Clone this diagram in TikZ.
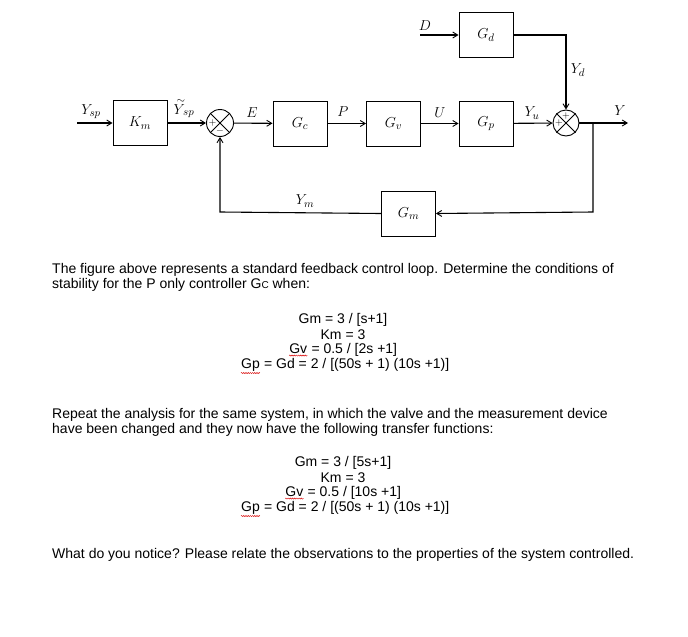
\documentclass[tikz,border=0pt]{standalone}
\usepackage{fontspec}
\setmainfont{Liberation Sans}
\usetikzlibrary{arrows.meta,decorations.pathmorphing}
\newcommand\wavy[1]{\tikz[baseline=(wv.base)]{\node[inner sep=0pt](wv){#1};\draw[red!85!black,line width=0.45pt,decorate,decoration={snake,amplitude=0.55pt,segment length=2.2pt}] ([yshift=-1.6pt]wv.south west) -- ([yshift=-1.6pt]wv.south east);}}
\newcommand\smc{{\fontsize{10}{10}\selectfont C}}
\begin{document}
\begin{tikzpicture}[x=1pt,y=-1pt,
  blk/.style={draw,line width=0.9pt,minimum width=54pt,minimum height=45pt,inner sep=0pt,font=\fontsize{15}{18}\selectfont},
  sumj/.style={draw,circle,line width=0.9pt,minimum size=27pt,inner sep=0pt},
  sig/.style={line width=1.1pt},
  arr/.style={sig,-{Straight Barb[length=5pt,width=6pt,line width=0.9pt]}},
  lab/.style={inner sep=0pt,font=\fontsize{15}{18}\selectfont},
  pm/.style={inner sep=0pt,font=\fontsize{10}{10}\selectfont},
  txt/.style={inner sep=0pt,anchor=west,font=\fontsize{14}{15}\selectfont},
  eq/.style={inner sep=0pt,anchor=center,font=\fontsize{14}{15}\selectfont}]
\useasboundingbox (0,0) rectangle (688,637);
% blocks
\coordinate (ysp) at (77,123);
\node[blk] (km) at (140,123) {$K_m$};
\node[sumj] (s1) at (220,123) {};
\node[blk] (gc) at (300,123.5) {$G_c$};
\node[blk] (gv) at (393.5,123.5) {$G_v$};
\node[blk] (gp) at (486,123.5) {$G_p$};
\node[blk] (gd) at (486,35) {$G_d$};
\coordinate (d) at (420,35);
\node[sumj,minimum size=26pt] (s2) at (566,123) {};
\coordinate (br) at (593,123);
\coordinate (yout) at (628,123);
\node[blk] (gm) at (408.5,213.5) {$G_m$};
\coordinate (c1) at (593,212);
\coordinate (c2) at (220,212);
\coordinate (c3) at (566,35);
% crosses in junctions
\foreach \s in {s1,s2}{
  \draw[line width=0.8pt] (\s.45) -- (\s.225) (\s.135) -- (\s.315);}
\node[pm] at ([xshift=-7.5pt]s1.center) {$+$};
\node[pm] at ([yshift=-7.5pt]s1.center) {$-$};
\node[pm] at ([yshift=7pt]s2.center) {$+$};
\node[pm] at ([xshift=-7pt]s2.center) {$+$};
% connectors
\draw[arr] (ysp) -- (km);
\draw[arr] (km) -- (s1);
\draw[arr] (s1) -- (gc);
\draw[arr] (gc) -- (gv);
\draw[arr] (gv) -- (gp);
\draw[arr] (gp) -- (s2);
\draw[arr] (d) -- (gd);
\draw[arr] (gd.east) -- (c3) -- (s2.north);
\draw[arr] (s2) -- (yout);
\draw[arr] (br) -- (c1) -- (gm.east);
\draw[arr] (gm.west) -- (c2) -- (s1.south);
% labels
\node[lab] at (91,112) {$Y_{sp}$};
\node[lab] at (184,108) {$\stackrel{\sim}{Y}_{\!sp}$};
\node[lab] at (252,113) {$E$};
\node[lab] at (343,112) {$P$};
\node[lab] at (440,113) {$U$};
\node[lab] at (532,113) {$Y_u$};
\node[lab] at (620,111) {$Y$};
\node[lab] at (425,26) {$D$};
\node[lab] at (578,70) {$Y_d$};
\node[lab] at (305,201) {$Y_m$};
% text
\node[txt] (t1) at (52,270) {The figure above represents a standard feedback control loop. Determine the conditions of};
\node[txt] (t2) at (52,285) {stability for the P only controller G\smc\ when:};
\node[eq] (e1) at (343,320) {Gm = 3 / [s+1]};
\node[eq] (e2) at (343,335) {Km = 3};
\node[eq] (e3) at (343,350) {\wavy{Gv} = 0.5 / [2s +1]};
\node[eq] (e4) at (345,366) {\wavy{Gp} = Gd = 2 / [(50s + 1) (10s +1)]};
\node[txt] (t3) at (52,415) {Repeat the analysis for the same system, in which the valve and the measurement device};
\node[txt] (t4) at (52,430) {have been changed and they now have the following transfer functions:};
\node[eq] (f1) at (343,463) {Gm = 3 / [5s+1]};
\node[eq] (f2) at (343,478) {Km = 3};
\node[eq] (f3) at (343,493) {\wavy{Gv} = 0.5 / [10s +1]};
\node[eq] (f4) at (345,509) {\wavy{Gp} = Gd = 2 / [(50s + 1) (10s +1)]};
\node[txt] (t5) at (52,555) {What do you notice? Please relate the observations to the properties of the system controlled.};
\end{tikzpicture}
\end{document}
